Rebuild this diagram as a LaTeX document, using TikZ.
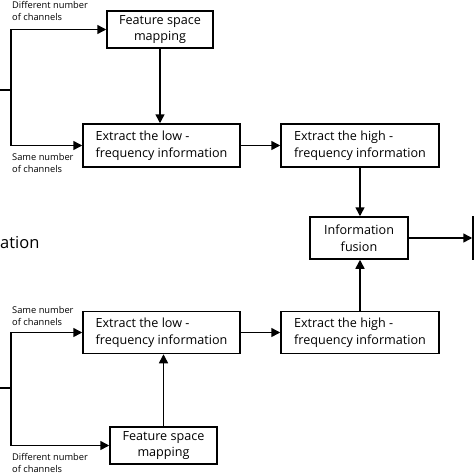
\documentclass[tikz,border=0pt]{standalone}
\usepackage{fontspec}
\setmainfont{Open Sans}
\usetikzlibrary{arrows.meta}
\begin{document}
\begin{tikzpicture}[x=1pt,y=1pt,
  box/.style={draw,line width=1.5pt,rectangle,inner sep=0pt,font=\fontsize{12.6}{16.5}\selectfont},
  lbl/.style={anchor=west,inner sep=0pt,align=left,font=\fontsize{9.3}{12.5}\selectfont},
  conn/.style={line width=1.5pt},
  arr/.style={conn,-{Triangle[length=9pt,width=9pt]}}]
\useasboundingbox (0,0) rectangle (474,-474);
% top half
\node[box,minimum width=106pt,minimum height=37pt,align=center] (fsm1) at (160,-29.5) {Feature space\\mapping};
\node[box,minimum width=157pt,minimum height=43pt,align=left] (low1) at (161.5,-145.5) {Extract the low -\\frequency information};
\node[box,minimum width=158pt,minimum height=43pt,align=left] (high1) at (360,-145.5) {Extract the high -\\frequency information};
\node[box,minimum width=98pt,minimum height=42pt,align=center] (fus) at (359,-238) {Information\\fusion};
\node[box,minimum width=60pt,minimum height=42pt] (out) at (503,-238) {};
% bottom half
\node[box,minimum width=157pt,minimum height=42pt,align=left] (low2) at (161.5,-332.5) {Extract the low -\\frequency information};
\node[box,minimum width=158pt,minimum height=42pt,align=left] (high2) at (360,-332.5) {Extract the high -\\frequency information};
\node[box,minimum width=107pt,minimum height=37pt,align=center] (fsm2) at (163.5,-445.5) {Feature space\\mapping};
% partial large text
\node[anchor=west,inner sep=0pt,font=\fontsize{16.5}{18}\selectfont] (cut) at (0,-243) {ation};
% labels
\node[lbl] (l1) at (12,-11) {Different number\\of channels};
\node[lbl] (l2) at (12,-163) {Same number\\of channels};
\node[lbl] (l3) at (12,-316) {Same number\\of channels};
\node[lbl] (l4) at (12,-463) {Different number\\of channels};
% coordinates
\coordinate (in1) at (0,-90);
\coordinate (j1) at (11,-90);
\coordinate (in2) at (0,-388);
\coordinate (j2) at (11,-388);
% connectors top
\draw[conn] (in1) -- (j1);
\draw[arr] (j1) |- (fsm1.west);
\draw[arr] (j1) |- (low1.west);
\draw[arr] (fsm1.south) -- (fsm1.south |- low1.north);
\draw[arr] (low1.east) -- (high1.west);
\draw[arr] (high1.south) -- (high1.south |- fus.north);
\draw[arr] (fus.east) -- (out.west);
% connectors bottom
\draw[conn] (in2) -- (j2);
\draw[arr] (j2) |- (low2.west);
\draw[arr] (j2) |- (fsm2.west);
\draw[arr] (fsm2.north) -- (fsm2.north |- low2.south);
\draw[arr] (low2.east) -- (high2.west);
\draw[arr] (high2.north) -- (high2.north |- fus.south);
\end{tikzpicture}
\end{document}
